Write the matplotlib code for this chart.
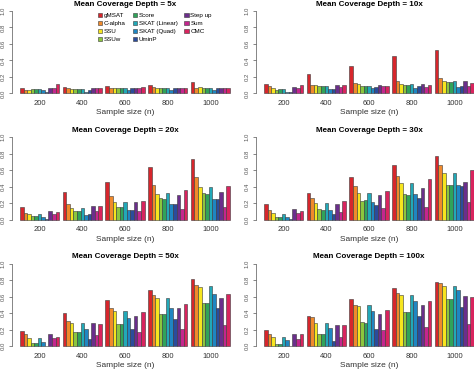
import numpy as np
import matplotlib.pyplot as plt
from matplotlib.patches import Patch

plt.rcParams['font.family'] = ['Liberation Sans', 'DejaVu Sans']

# methods / colours (legend order)
methods = ["gMSAT", "C-alpha", "SSU", "SSUw", "Score", "SKAT (Linear)",
           "SKAT (Quad)", "UminP", "Step up", "Sum", "CMC"]
colors = ["#d7262c", "#f08a2c", "#f6e51f", "#8cc63e", "#30a35a", "#22a9b8",
          "#1f86c2", "#2b4c9c", "#6b2e8c", "#c4268e", "#d9245e"]
sample_sizes = ["200", "400", "600", "800", "1000"]

# power per sample size (rows) and method (columns)
power_5x = [
    [0.07, 0.04, 0.04, 0.05, 0.05, 0.05, 0.04, 0.02, 0.06, 0.06, 0.11],
    [0.08, 0.06, 0.05, 0.05, 0.05, 0.05, 0.02, 0.04, 0.07, 0.07, 0.07],
    [0.09, 0.06, 0.07, 0.07, 0.07, 0.07, 0.04, 0.06, 0.07, 0.06, 0.08],
    [0.10, 0.08, 0.07, 0.07, 0.07, 0.06, 0.04, 0.07, 0.07, 0.07, 0.06],
    [0.14, 0.06, 0.08, 0.07, 0.07, 0.07, 0.04, 0.07, 0.07, 0.06, 0.06],
]
power_10x = [
    [0.12, 0.09, 0.06, 0.04, 0.05, 0.05, 0.02, 0.02, 0.08, 0.065, 0.10],
    [0.23, 0.10, 0.10, 0.09, 0.085, 0.09, 0.05, 0.05, 0.10, 0.08, 0.10],
    [0.33, 0.13, 0.11, 0.09, 0.085, 0.09, 0.06, 0.08, 0.10, 0.09, 0.09],
    [0.45, 0.15, 0.11, 0.105, 0.10, 0.11, 0.07, 0.09, 0.115, 0.08, 0.10],
    [0.53, 0.19, 0.15, 0.14, 0.14, 0.145, 0.08, 0.09, 0.145, 0.085, 0.13],
]
power_20x = [
    [0.15, 0.08, 0.07, 0.04, 0.04, 0.07, 0.03, 0.005, 0.11, 0.07, 0.09],
    [0.34, 0.19, 0.14, 0.11, 0.11, 0.14, 0.06, 0.065, 0.165, 0.10, 0.17],
    [0.46, 0.29, 0.21, 0.16, 0.16, 0.22, 0.12, 0.12, 0.21, 0.11, 0.23],
    [0.645, 0.42, 0.31, 0.265, 0.255, 0.32, 0.19, 0.19, 0.30, 0.13, 0.355],
    [0.74, 0.52, 0.40, 0.33, 0.31, 0.40, 0.25, 0.25, 0.34, 0.155, 0.415],
]
power_30x = [
    [0.185, 0.12, 0.08, 0.03, 0.03, 0.075, 0.03, 0.01, 0.125, 0.08, 0.105],
    [0.32, 0.26, 0.20, 0.125, 0.115, 0.20, 0.115, 0.065, 0.19, 0.095, 0.23],
    [0.515, 0.405, 0.33, 0.23, 0.235, 0.33, 0.21, 0.175, 0.30, 0.14, 0.345],
    [0.66, 0.525, 0.45, 0.31, 0.30, 0.45, 0.31, 0.26, 0.38, 0.155, 0.50],
    [0.775, 0.66, 0.57, 0.42, 0.425, 0.57, 0.425, 0.41, 0.455, 0.21, 0.60],
]
power_50x = [
    [0.18, 0.14, 0.10, 0.035, 0.035, 0.10, 0.05, 0.005, 0.14, 0.10, 0.115],
    [0.40, 0.30, 0.28, 0.165, 0.165, 0.28, 0.21, 0.085, 0.275, 0.13, 0.27],
    [0.56, 0.465, 0.43, 0.27, 0.27, 0.43, 0.335, 0.21, 0.37, 0.165, 0.41],
    [0.675, 0.615, 0.58, 0.39, 0.39, 0.58, 0.46, 0.33, 0.46, 0.21, 0.51],
    [0.815, 0.735, 0.72, 0.525, 0.525, 0.725, 0.63, 0.46, 0.58, 0.25, 0.635],
]
power_100x = [
    [0.19, 0.145, 0.115, 0.03, 0.03, 0.115, 0.07, 0.005, 0.15, 0.085, 0.14],
    [0.36, 0.35, 0.28, 0.14, 0.14, 0.285, 0.215, 0.065, 0.26, 0.11, 0.25],
    [0.57, 0.50, 0.49, 0.29, 0.285, 0.495, 0.42, 0.21, 0.39, 0.19, 0.44],
    [0.70, 0.64, 0.62, 0.415, 0.41, 0.62, 0.55, 0.365, 0.495, 0.23, 0.545],
    [0.78, 0.765, 0.73, 0.57, 0.57, 0.73, 0.675, 0.475, 0.61, 0.265, 0.595],
]

panels = [("Mean Coverage Depth = 5x", power_5x),
          ("Mean Coverage Depth = 10x", power_10x),
          ("Mean Coverage Depth = 20x", power_20x),
          ("Mean Coverage Depth = 30x", power_30x),
          ("Mean Coverage Depth = 50x", power_50x),
          ("Mean Coverage Depth = 100x", power_100x)]

W, H = 474, 371
fig = plt.figure(figsize=(W / 100, H / 100), dpi=100)

# panel top-left corners in pixels
corners = [(11.6, 7.7), (255.6, 7.7), (11.6, 134), (255.6, 134),
           (11.6, 260.3), (255.6, 260.3)]
pw, ph = 226.8, 89

n_methods = len(methods)
group_start = 1 + np.arange(len(sample_sizes)) * (n_methods + 1)

for i, (title, data) in enumerate(panels):
    x0, y0 = corners[i]
    ax = fig.add_axes([x0 / W, 1 - (y0 + ph) / H, pw / W, ph / H])
    vals = np.array(data)
    for m in range(n_methods):
        ax.bar(group_start + m + 0.5, vals[:, m], width=1, color=colors[m],
               edgecolor="#3a3a3a", linewidth=0.4)
    ax.set_xlim(-1.36, 62.36)
    ax.set_ylim(-0.04, 1.04)
    for s in ["top", "right", "bottom"]:
        ax.spines[s].set_visible(False)
    ax.spines["left"].set_bounds(0, 1)
    ax.spines["left"].set_linewidth(0.5)
    ax.spines["left"].set_color("#555555")
    ax.set_yticks(np.arange(0, 1.01, 0.2))
    ax.set_yticklabels(["%.1f" % v for v in np.arange(0, 1.01, 0.2)],
                       rotation=90, va="center", fontsize=4.3, color="#555555")
    ax.tick_params(axis="y", length=2.5, width=0.5, pad=1.5, color="#555555")
    ax.set_xticks(group_start + n_methods / 2)
    ax.set_xticklabels(sample_sizes, fontsize=5.5, color="#333333")
    ax.tick_params(axis="x", length=0, pad=2.5)
    ax.set_xlabel("Sample size (n)", fontsize=6, color="#333333", labelpad=1.5)
    ax.set_title(title, fontsize=5.8, fontweight="bold", pad=0.8)

    if i == 0:
        handles = [Patch(facecolor=c, edgecolor="#3a3a3a", linewidth=0.4)
                   for c in colors]
        ax.legend(handles, methods, ncol=3, loc="upper left",
                  bbox_to_anchor=(98 / W, 1 - 13 / H),
                  bbox_transform=fig.transFigure, frameon=False,
                  fontsize=4.5, handlelength=0.7, handleheight=0.6,
                  handletextpad=0.25, columnspacing=1.1, labelspacing=0.45,
                  borderpad=0, borderaxespad=0)

fig.savefig("out.png", dpi=100)
